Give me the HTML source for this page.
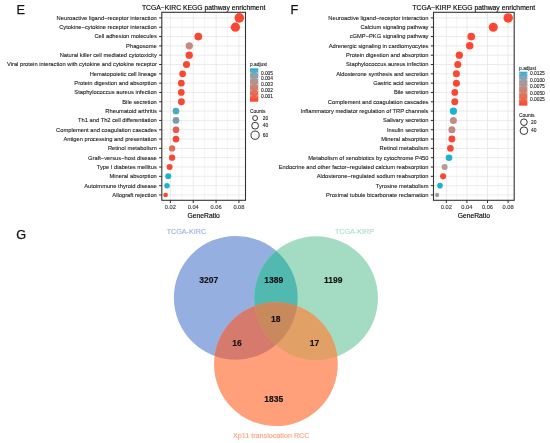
<!DOCTYPE html>
<html><head><meta charset="utf-8"><style>
html,body{margin:0;padding:0;background:#fff;}
svg{display:block;}
text{font-family:"Liberation Sans",Arial,sans-serif;}
.yl{font-size:5.75px;fill:#1a1a1a;stroke:#1a1a1a;stroke-width:0.1px;text-anchor:end;}
.xl{font-size:5.7px;fill:#3a3a3a;stroke:#3a3a3a;stroke-width:0.12px;text-anchor:middle;}
.xt{font-size:6.75px;fill:#000;stroke:#000;stroke-width:0.13px;text-anchor:middle;}
.tt{font-size:6.8px;fill:#000;stroke:#000;stroke-width:0.13px;text-anchor:middle;}
.lg{font-size:4.85px;fill:#1a1a1a;stroke:#1a1a1a;stroke-width:0.1px;}
.pl{font-size:12.7px;fill:#111;stroke:#111;stroke-width:0.25px;}
.vn{font-size:8.5px;font-weight:bold;fill:#111;stroke:#111;stroke-width:0.15px;text-anchor:middle;}
.vl{font-size:7.2px;stroke-width:0.12px;text-anchor:middle;}
</style></head><body>
<svg width="550" height="443" viewBox="0 0 550 443">
<defs>
<linearGradient id="gE" x1="0" y1="0" x2="0" y2="1">
<stop offset="0.000" stop-color="#18b4d4"/><stop offset="0.125" stop-color="#6faabe"/><stop offset="0.250" stop-color="#95a0a8"/><stop offset="0.375" stop-color="#af9593"/><stop offset="0.500" stop-color="#c5897e"/><stop offset="0.625" stop-color="#d67c69"/><stop offset="0.750" stop-color="#e56d54"/><stop offset="0.875" stop-color="#f35b3f"/><stop offset="1.000" stop-color="#ff4428"/>
</linearGradient>
<linearGradient id="gF" x1="0" y1="0" x2="0" y2="1">
<stop offset="0.000" stop-color="#18b4d4"/><stop offset="0.125" stop-color="#6faabe"/><stop offset="0.250" stop-color="#95a0a8"/><stop offset="0.375" stop-color="#af9593"/><stop offset="0.500" stop-color="#c5897e"/><stop offset="0.625" stop-color="#d67c69"/><stop offset="0.750" stop-color="#e56d54"/><stop offset="0.875" stop-color="#f35b3f"/><stop offset="1.000" stop-color="#ff4428"/>
</linearGradient>
</defs>
<rect width="550" height="443" fill="#fff"/>
<text x="16.4" y="13.9" class="pl">E</text>
<text x="290.6" y="13.9" class="pl">F</text>
<text x="16.2" y="239.1" class="pl">G</text>
<line x1="181.82" y1="12.3" x2="181.82" y2="200.3" stroke="#ececec" stroke-width="0.5"/>
<line x1="204.66" y1="12.3" x2="204.66" y2="200.3" stroke="#ececec" stroke-width="0.5"/>
<line x1="227.50" y1="12.3" x2="227.50" y2="200.3" stroke="#ececec" stroke-width="0.5"/>
<line x1="170.40" y1="12.3" x2="170.40" y2="200.3" stroke="#e6e6e6" stroke-width="0.8"/>
<line x1="193.24" y1="12.3" x2="193.24" y2="200.3" stroke="#e6e6e6" stroke-width="0.8"/>
<line x1="216.08" y1="12.3" x2="216.08" y2="200.3" stroke="#e6e6e6" stroke-width="0.8"/>
<line x1="238.92" y1="12.3" x2="238.92" y2="200.3" stroke="#e6e6e6" stroke-width="0.8"/>
<line x1="161.8" y1="17.90" x2="245.5" y2="17.90" stroke="#e6e6e6" stroke-width="0.8"/>
<line x1="161.8" y1="27.22" x2="245.5" y2="27.22" stroke="#e6e6e6" stroke-width="0.8"/>
<line x1="161.8" y1="36.54" x2="245.5" y2="36.54" stroke="#e6e6e6" stroke-width="0.8"/>
<line x1="161.8" y1="45.86" x2="245.5" y2="45.86" stroke="#e6e6e6" stroke-width="0.8"/>
<line x1="161.8" y1="55.18" x2="245.5" y2="55.18" stroke="#e6e6e6" stroke-width="0.8"/>
<line x1="161.8" y1="64.50" x2="245.5" y2="64.50" stroke="#e6e6e6" stroke-width="0.8"/>
<line x1="161.8" y1="73.82" x2="245.5" y2="73.82" stroke="#e6e6e6" stroke-width="0.8"/>
<line x1="161.8" y1="83.14" x2="245.5" y2="83.14" stroke="#e6e6e6" stroke-width="0.8"/>
<line x1="161.8" y1="92.46" x2="245.5" y2="92.46" stroke="#e6e6e6" stroke-width="0.8"/>
<line x1="161.8" y1="101.78" x2="245.5" y2="101.78" stroke="#e6e6e6" stroke-width="0.8"/>
<line x1="161.8" y1="111.10" x2="245.5" y2="111.10" stroke="#e6e6e6" stroke-width="0.8"/>
<line x1="161.8" y1="120.42" x2="245.5" y2="120.42" stroke="#e6e6e6" stroke-width="0.8"/>
<line x1="161.8" y1="129.74" x2="245.5" y2="129.74" stroke="#e6e6e6" stroke-width="0.8"/>
<line x1="161.8" y1="139.06" x2="245.5" y2="139.06" stroke="#e6e6e6" stroke-width="0.8"/>
<line x1="161.8" y1="148.38" x2="245.5" y2="148.38" stroke="#e6e6e6" stroke-width="0.8"/>
<line x1="161.8" y1="157.70" x2="245.5" y2="157.70" stroke="#e6e6e6" stroke-width="0.8"/>
<line x1="161.8" y1="167.02" x2="245.5" y2="167.02" stroke="#e6e6e6" stroke-width="0.8"/>
<line x1="161.8" y1="176.34" x2="245.5" y2="176.34" stroke="#e6e6e6" stroke-width="0.8"/>
<line x1="161.8" y1="185.66" x2="245.5" y2="185.66" stroke="#e6e6e6" stroke-width="0.8"/>
<line x1="161.8" y1="194.98" x2="245.5" y2="194.98" stroke="#e6e6e6" stroke-width="0.8"/>
<circle cx="239.3" cy="17.90" r="4.80" fill="#fb4632"/>
<circle cx="235.4" cy="27.22" r="4.65" fill="#fb4632"/>
<circle cx="198.3" cy="36.54" r="3.85" fill="#fb4632"/>
<circle cx="189.3" cy="45.86" r="3.65" fill="#c48a88"/>
<circle cx="189.2" cy="55.18" r="3.65" fill="#fb4632"/>
<circle cx="186.5" cy="64.50" r="3.55" fill="#fb4632"/>
<circle cx="182.6" cy="73.82" r="3.35" fill="#fb4632"/>
<circle cx="181.3" cy="83.14" r="3.35" fill="#fb4632"/>
<circle cx="181.3" cy="92.46" r="3.35" fill="#fb4632"/>
<circle cx="181.4" cy="101.78" r="3.45" fill="#fb4632"/>
<circle cx="176.0" cy="111.10" r="3.35" fill="#4fa8bb"/>
<circle cx="176.0" cy="120.42" r="3.35" fill="#7b9aab"/>
<circle cx="176.0" cy="129.74" r="3.35" fill="#e45c4c"/>
<circle cx="176.0" cy="139.06" r="3.35" fill="#fb4632"/>
<circle cx="172.1" cy="148.38" r="3.15" fill="#e46a5a"/>
<circle cx="172.1" cy="157.70" r="3.15" fill="#fb4632"/>
<circle cx="169.6" cy="167.02" r="3.00" fill="#fb4632"/>
<circle cx="168.2" cy="176.34" r="3.00" fill="#1ab4d2"/>
<circle cx="167.0" cy="185.66" r="2.75" fill="#1ab4d2"/>
<circle cx="165.6" cy="194.98" r="2.35" fill="#fb4632"/>
<rect x="161.8" y="12.3" width="83.70" height="188.00" fill="none" stroke="#333" stroke-width="1.1"/>
<line x1="159.10" y1="17.90" x2="161.8" y2="17.90" stroke="#333" stroke-width="1.05"/>
<text x="156.80" y="19.85" class="yl">Neuroactive ligand−receptor interaction</text>
<line x1="159.10" y1="27.22" x2="161.8" y2="27.22" stroke="#333" stroke-width="1.05"/>
<text x="156.80" y="29.17" class="yl">Cytokine−cytokine receptor interaction</text>
<line x1="159.10" y1="36.54" x2="161.8" y2="36.54" stroke="#333" stroke-width="1.05"/>
<text x="156.80" y="38.49" class="yl">Cell adhesion molecules</text>
<line x1="159.10" y1="45.86" x2="161.8" y2="45.86" stroke="#333" stroke-width="1.05"/>
<text x="156.80" y="47.81" class="yl">Phagosome</text>
<line x1="159.10" y1="55.18" x2="161.8" y2="55.18" stroke="#333" stroke-width="1.05"/>
<text x="156.80" y="57.13" class="yl">Natural killer cell mediated cytotoxicity</text>
<line x1="159.10" y1="64.50" x2="161.8" y2="64.50" stroke="#333" stroke-width="1.05"/>
<text x="156.80" y="66.45" class="yl">Viral protein interaction with cytokine and cytokine receptor</text>
<line x1="159.10" y1="73.82" x2="161.8" y2="73.82" stroke="#333" stroke-width="1.05"/>
<text x="156.80" y="75.77" class="yl">Hematopoietic cell lineage</text>
<line x1="159.10" y1="83.14" x2="161.8" y2="83.14" stroke="#333" stroke-width="1.05"/>
<text x="156.80" y="85.09" class="yl">Protein digestion and absorption</text>
<line x1="159.10" y1="92.46" x2="161.8" y2="92.46" stroke="#333" stroke-width="1.05"/>
<text x="156.80" y="94.41" class="yl">Staphylococcus aureus infection</text>
<line x1="159.10" y1="101.78" x2="161.8" y2="101.78" stroke="#333" stroke-width="1.05"/>
<text x="156.80" y="103.73" class="yl">Bile secretion</text>
<line x1="159.10" y1="111.10" x2="161.8" y2="111.10" stroke="#333" stroke-width="1.05"/>
<text x="156.80" y="113.05" class="yl">Rheumatoid arthritis</text>
<line x1="159.10" y1="120.42" x2="161.8" y2="120.42" stroke="#333" stroke-width="1.05"/>
<text x="156.80" y="122.37" class="yl">Th1 and Th2 cell differentiation</text>
<line x1="159.10" y1="129.74" x2="161.8" y2="129.74" stroke="#333" stroke-width="1.05"/>
<text x="156.80" y="131.69" class="yl">Complement and coagulation cascades</text>
<line x1="159.10" y1="139.06" x2="161.8" y2="139.06" stroke="#333" stroke-width="1.05"/>
<text x="156.80" y="141.01" class="yl">Antigen processing and presentation</text>
<line x1="159.10" y1="148.38" x2="161.8" y2="148.38" stroke="#333" stroke-width="1.05"/>
<text x="156.80" y="150.33" class="yl">Retinol metabolism</text>
<line x1="159.10" y1="157.70" x2="161.8" y2="157.70" stroke="#333" stroke-width="1.05"/>
<text x="156.80" y="159.65" class="yl">Graft−versus−host disease</text>
<line x1="159.10" y1="167.02" x2="161.8" y2="167.02" stroke="#333" stroke-width="1.05"/>
<text x="156.80" y="168.97" class="yl">Type I diabetes mellitus</text>
<line x1="159.10" y1="176.34" x2="161.8" y2="176.34" stroke="#333" stroke-width="1.05"/>
<text x="156.80" y="178.29" class="yl">Mineral absorption</text>
<line x1="159.10" y1="185.66" x2="161.8" y2="185.66" stroke="#333" stroke-width="1.05"/>
<text x="156.80" y="187.61" class="yl">Autoimmune thyroid disease</text>
<line x1="159.10" y1="194.98" x2="161.8" y2="194.98" stroke="#333" stroke-width="1.05"/>
<text x="156.80" y="196.93" class="yl">Allograft rejection</text>
<line x1="170.40" y1="200.3" x2="170.40" y2="203.00" stroke="#333" stroke-width="1.05"/>
<text x="170.40" y="209.4" class="xl">0.02</text>
<line x1="193.24" y1="200.3" x2="193.24" y2="203.00" stroke="#333" stroke-width="1.05"/>
<text x="193.24" y="209.4" class="xl">0.04</text>
<line x1="216.08" y1="200.3" x2="216.08" y2="203.00" stroke="#333" stroke-width="1.05"/>
<text x="216.08" y="209.4" class="xl">0.06</text>
<line x1="238.92" y1="200.3" x2="238.92" y2="203.00" stroke="#333" stroke-width="1.05"/>
<text x="238.92" y="209.4" class="xl">0.08</text>
<text x="203.65" y="217.6" class="xt">GeneRatio</text>
<text x="203.65" y="9.5" class="tt">TCGA−KIRC KEGG pathway enrichment</text>
<line x1="436.00" y1="12.3" x2="436.00" y2="200.3" stroke="#ececec" stroke-width="0.5"/>
<line x1="456.60" y1="12.3" x2="456.60" y2="200.3" stroke="#ececec" stroke-width="0.5"/>
<line x1="477.20" y1="12.3" x2="477.20" y2="200.3" stroke="#ececec" stroke-width="0.5"/>
<line x1="497.80" y1="12.3" x2="497.80" y2="200.3" stroke="#ececec" stroke-width="0.5"/>
<line x1="446.30" y1="12.3" x2="446.30" y2="200.3" stroke="#e6e6e6" stroke-width="0.8"/>
<line x1="466.90" y1="12.3" x2="466.90" y2="200.3" stroke="#e6e6e6" stroke-width="0.8"/>
<line x1="487.50" y1="12.3" x2="487.50" y2="200.3" stroke="#e6e6e6" stroke-width="0.8"/>
<line x1="508.10" y1="12.3" x2="508.10" y2="200.3" stroke="#e6e6e6" stroke-width="0.8"/>
<line x1="433.5" y1="17.90" x2="514.2" y2="17.90" stroke="#e6e6e6" stroke-width="0.8"/>
<line x1="433.5" y1="27.22" x2="514.2" y2="27.22" stroke="#e6e6e6" stroke-width="0.8"/>
<line x1="433.5" y1="36.54" x2="514.2" y2="36.54" stroke="#e6e6e6" stroke-width="0.8"/>
<line x1="433.5" y1="45.86" x2="514.2" y2="45.86" stroke="#e6e6e6" stroke-width="0.8"/>
<line x1="433.5" y1="55.18" x2="514.2" y2="55.18" stroke="#e6e6e6" stroke-width="0.8"/>
<line x1="433.5" y1="64.50" x2="514.2" y2="64.50" stroke="#e6e6e6" stroke-width="0.8"/>
<line x1="433.5" y1="73.82" x2="514.2" y2="73.82" stroke="#e6e6e6" stroke-width="0.8"/>
<line x1="433.5" y1="83.14" x2="514.2" y2="83.14" stroke="#e6e6e6" stroke-width="0.8"/>
<line x1="433.5" y1="92.46" x2="514.2" y2="92.46" stroke="#e6e6e6" stroke-width="0.8"/>
<line x1="433.5" y1="101.78" x2="514.2" y2="101.78" stroke="#e6e6e6" stroke-width="0.8"/>
<line x1="433.5" y1="111.10" x2="514.2" y2="111.10" stroke="#e6e6e6" stroke-width="0.8"/>
<line x1="433.5" y1="120.42" x2="514.2" y2="120.42" stroke="#e6e6e6" stroke-width="0.8"/>
<line x1="433.5" y1="129.74" x2="514.2" y2="129.74" stroke="#e6e6e6" stroke-width="0.8"/>
<line x1="433.5" y1="139.06" x2="514.2" y2="139.06" stroke="#e6e6e6" stroke-width="0.8"/>
<line x1="433.5" y1="148.38" x2="514.2" y2="148.38" stroke="#e6e6e6" stroke-width="0.8"/>
<line x1="433.5" y1="157.70" x2="514.2" y2="157.70" stroke="#e6e6e6" stroke-width="0.8"/>
<line x1="433.5" y1="167.02" x2="514.2" y2="167.02" stroke="#e6e6e6" stroke-width="0.8"/>
<line x1="433.5" y1="176.34" x2="514.2" y2="176.34" stroke="#e6e6e6" stroke-width="0.8"/>
<line x1="433.5" y1="185.66" x2="514.2" y2="185.66" stroke="#e6e6e6" stroke-width="0.8"/>
<line x1="433.5" y1="194.98" x2="514.2" y2="194.98" stroke="#e6e6e6" stroke-width="0.8"/>
<circle cx="508.2" cy="17.90" r="4.75" fill="#fb4632"/>
<circle cx="493.3" cy="27.22" r="4.50" fill="#fb4632"/>
<circle cx="471.2" cy="36.54" r="3.85" fill="#fb4632"/>
<circle cx="469.7" cy="45.86" r="3.75" fill="#fb4632"/>
<circle cx="459.3" cy="55.18" r="3.65" fill="#fb4632"/>
<circle cx="457.8" cy="64.50" r="3.50" fill="#fb4632"/>
<circle cx="456.4" cy="73.82" r="3.50" fill="#fb4632"/>
<circle cx="456.4" cy="83.14" r="3.50" fill="#fb4632"/>
<circle cx="454.8" cy="92.46" r="3.35" fill="#fb4632"/>
<circle cx="454.8" cy="101.78" r="3.45" fill="#fb4632"/>
<circle cx="453.4" cy="111.10" r="3.65" fill="#1ab4d2"/>
<circle cx="453.4" cy="120.42" r="3.50" fill="#c08e88"/>
<circle cx="451.9" cy="129.74" r="3.50" fill="#c08a84"/>
<circle cx="451.9" cy="139.06" r="3.45" fill="#fb4632"/>
<circle cx="450.4" cy="148.38" r="3.30" fill="#fb4632"/>
<circle cx="449.0" cy="157.70" r="3.30" fill="#1ab4d2"/>
<circle cx="444.6" cy="167.02" r="3.05" fill="#b49a98"/>
<circle cx="443.1" cy="176.34" r="3.05" fill="#fb4632"/>
<circle cx="440.0" cy="185.66" r="2.80" fill="#1ab4d2"/>
<circle cx="437.1" cy="194.98" r="2.15" fill="#a89a9c"/>
<rect x="433.5" y="12.3" width="80.70" height="188.00" fill="none" stroke="#333" stroke-width="1.1"/>
<line x1="430.80" y1="17.90" x2="433.5" y2="17.90" stroke="#333" stroke-width="1.05"/>
<text x="428.50" y="19.85" class="yl">Neuroactive ligand−receptor interaction</text>
<line x1="430.80" y1="27.22" x2="433.5" y2="27.22" stroke="#333" stroke-width="1.05"/>
<text x="428.50" y="29.17" class="yl">Calcium signaling pathway</text>
<line x1="430.80" y1="36.54" x2="433.5" y2="36.54" stroke="#333" stroke-width="1.05"/>
<text x="428.50" y="38.49" class="yl">cGMP−PKG signaling pathway</text>
<line x1="430.80" y1="45.86" x2="433.5" y2="45.86" stroke="#333" stroke-width="1.05"/>
<text x="428.50" y="47.81" class="yl">Adrenergic signaling in cardiomyocytes</text>
<line x1="430.80" y1="55.18" x2="433.5" y2="55.18" stroke="#333" stroke-width="1.05"/>
<text x="428.50" y="57.13" class="yl">Protein digestion and absorption</text>
<line x1="430.80" y1="64.50" x2="433.5" y2="64.50" stroke="#333" stroke-width="1.05"/>
<text x="428.50" y="66.45" class="yl">Staphylococcus aureus infection</text>
<line x1="430.80" y1="73.82" x2="433.5" y2="73.82" stroke="#333" stroke-width="1.05"/>
<text x="428.50" y="75.77" class="yl">Aldosterone synthesis and secretion</text>
<line x1="430.80" y1="83.14" x2="433.5" y2="83.14" stroke="#333" stroke-width="1.05"/>
<text x="428.50" y="85.09" class="yl">Gastric acid secretion</text>
<line x1="430.80" y1="92.46" x2="433.5" y2="92.46" stroke="#333" stroke-width="1.05"/>
<text x="428.50" y="94.41" class="yl">Bile secretion</text>
<line x1="430.80" y1="101.78" x2="433.5" y2="101.78" stroke="#333" stroke-width="1.05"/>
<text x="428.50" y="103.73" class="yl">Complement and coagulation cascades</text>
<line x1="430.80" y1="111.10" x2="433.5" y2="111.10" stroke="#333" stroke-width="1.05"/>
<text x="428.50" y="113.05" class="yl">Inflammatory mediator regulation of TRP channels</text>
<line x1="430.80" y1="120.42" x2="433.5" y2="120.42" stroke="#333" stroke-width="1.05"/>
<text x="428.50" y="122.37" class="yl">Salivary secretion</text>
<line x1="430.80" y1="129.74" x2="433.5" y2="129.74" stroke="#333" stroke-width="1.05"/>
<text x="428.50" y="131.69" class="yl">Insulin secretion</text>
<line x1="430.80" y1="139.06" x2="433.5" y2="139.06" stroke="#333" stroke-width="1.05"/>
<text x="428.50" y="141.01" class="yl">Mineral absorption</text>
<line x1="430.80" y1="148.38" x2="433.5" y2="148.38" stroke="#333" stroke-width="1.05"/>
<text x="428.50" y="150.33" class="yl">Retinol metabolism</text>
<line x1="430.80" y1="157.70" x2="433.5" y2="157.70" stroke="#333" stroke-width="1.05"/>
<text x="428.50" y="159.65" class="yl">Metabolism of xenobiotics by cytochrome P450</text>
<line x1="430.80" y1="167.02" x2="433.5" y2="167.02" stroke="#333" stroke-width="1.05"/>
<text x="428.50" y="168.97" class="yl">Endocrine and other factor−regulated calcium reabsorption</text>
<line x1="430.80" y1="176.34" x2="433.5" y2="176.34" stroke="#333" stroke-width="1.05"/>
<text x="428.50" y="178.29" class="yl">Aldosterone−regulated sodium reabsorption</text>
<line x1="430.80" y1="185.66" x2="433.5" y2="185.66" stroke="#333" stroke-width="1.05"/>
<text x="428.50" y="187.61" class="yl">Tyrosine metabolism</text>
<line x1="430.80" y1="194.98" x2="433.5" y2="194.98" stroke="#333" stroke-width="1.05"/>
<text x="428.50" y="196.93" class="yl">Proximal tubule bicarbonate reclamation</text>
<line x1="446.30" y1="200.3" x2="446.30" y2="203.00" stroke="#333" stroke-width="1.05"/>
<text x="446.30" y="209.4" class="xl">0.02</text>
<line x1="466.90" y1="200.3" x2="466.90" y2="203.00" stroke="#333" stroke-width="1.05"/>
<text x="466.90" y="209.4" class="xl">0.04</text>
<line x1="487.50" y1="200.3" x2="487.50" y2="203.00" stroke="#333" stroke-width="1.05"/>
<text x="487.50" y="209.4" class="xl">0.06</text>
<line x1="508.10" y1="200.3" x2="508.10" y2="203.00" stroke="#333" stroke-width="1.05"/>
<text x="508.10" y="209.4" class="xl">0.08</text>
<text x="473.85" y="217.6" class="xt">GeneRatio</text>
<text x="473.85" y="9.5" class="tt">TCGA−KIRP KEGG pathway enrichment</text>
<text x="250.0" y="65.9" class="lg">p.adjust</text>
<rect x="250.0" y="68.3" width="8.3" height="33.40" fill="url(#gE)"/>
<line x1="250.0" y1="72.9" x2="251.6" y2="72.9" stroke="#fff" stroke-width="0.5"/>
<line x1="256.7" y1="72.9" x2="258.3" y2="72.9" stroke="#fff" stroke-width="0.5"/>
<text x="260.90" y="74.60" class="lg">0.005</text>
<line x1="250.0" y1="78.7" x2="251.6" y2="78.7" stroke="#fff" stroke-width="0.5"/>
<line x1="256.7" y1="78.7" x2="258.3" y2="78.7" stroke="#fff" stroke-width="0.5"/>
<text x="260.90" y="80.40" class="lg">0.004</text>
<line x1="250.0" y1="84.4" x2="251.6" y2="84.4" stroke="#fff" stroke-width="0.5"/>
<line x1="256.7" y1="84.4" x2="258.3" y2="84.4" stroke="#fff" stroke-width="0.5"/>
<text x="260.90" y="86.10" class="lg">0.003</text>
<line x1="250.0" y1="90.2" x2="251.6" y2="90.2" stroke="#fff" stroke-width="0.5"/>
<line x1="256.7" y1="90.2" x2="258.3" y2="90.2" stroke="#fff" stroke-width="0.5"/>
<text x="260.90" y="91.90" class="lg">0.002</text>
<line x1="250.0" y1="95.9" x2="251.6" y2="95.9" stroke="#fff" stroke-width="0.5"/>
<line x1="256.7" y1="95.9" x2="258.3" y2="95.9" stroke="#fff" stroke-width="0.5"/>
<text x="260.90" y="97.60" class="lg">0.001</text>
<text x="250.0" y="112.6" class="lg">Counts</text>
<circle cx="255.1" cy="118.1" r="2.45" fill="none" stroke="#2a2a2a" stroke-width="0.95"/>
<text x="262.8" y="119.80" class="lg">20</text>
<circle cx="255.1" cy="125.7" r="3.4" fill="none" stroke="#2a2a2a" stroke-width="0.95"/>
<text x="262.8" y="127.40" class="lg">40</text>
<circle cx="255.1" cy="135.2" r="4.1" fill="none" stroke="#2a2a2a" stroke-width="0.95"/>
<text x="262.8" y="136.90" class="lg">60</text>
<text x="519.1" y="69.6" class="lg">p.adjust</text>
<rect x="519.1" y="71.7" width="8.3" height="33.90" fill="url(#gF)"/>
<line x1="519.1" y1="73.3" x2="520.7" y2="73.3" stroke="#fff" stroke-width="0.5"/>
<line x1="525.8000000000001" y1="73.3" x2="527.4" y2="73.3" stroke="#fff" stroke-width="0.5"/>
<text x="530.00" y="75.00" class="lg">0.0125</text>
<line x1="519.1" y1="79.8" x2="520.7" y2="79.8" stroke="#fff" stroke-width="0.5"/>
<line x1="525.8000000000001" y1="79.8" x2="527.4" y2="79.8" stroke="#fff" stroke-width="0.5"/>
<text x="530.00" y="81.50" class="lg">0.0100</text>
<line x1="519.1" y1="86.3" x2="520.7" y2="86.3" stroke="#fff" stroke-width="0.5"/>
<line x1="525.8000000000001" y1="86.3" x2="527.4" y2="86.3" stroke="#fff" stroke-width="0.5"/>
<text x="530.00" y="88.00" class="lg">0.0075</text>
<line x1="519.1" y1="92.8" x2="520.7" y2="92.8" stroke="#fff" stroke-width="0.5"/>
<line x1="525.8000000000001" y1="92.8" x2="527.4" y2="92.8" stroke="#fff" stroke-width="0.5"/>
<text x="530.00" y="94.50" class="lg">0.0050</text>
<line x1="519.1" y1="99.2" x2="520.7" y2="99.2" stroke="#fff" stroke-width="0.5"/>
<line x1="525.8000000000001" y1="99.2" x2="527.4" y2="99.2" stroke="#fff" stroke-width="0.5"/>
<text x="530.00" y="100.90" class="lg">0.0025</text>
<text x="519.1" y="116.6" class="lg">Counts</text>
<circle cx="523.9" cy="122.2" r="3.3" fill="none" stroke="#2a2a2a" stroke-width="0.95"/>
<text x="531.1" y="123.90" class="lg">20</text>
<circle cx="523.9" cy="130.7" r="3.8" fill="none" stroke="#2a2a2a" stroke-width="0.95"/>
<text x="531.1" y="132.40" class="lg">40</text>
<defs>
<clipPath id="cB"><circle cx="235.8" cy="297.8" r="61.9"/></clipPath>
<clipPath id="cG"><circle cx="316.1" cy="298.1" r="61.9"/></clipPath>
<clipPath id="cO"><circle cx="275.9" cy="364.2" r="61.9"/></clipPath>
</defs>
<circle cx="235.8" cy="297.8" r="61.9" fill="#94afe0"/>
<circle cx="316.1" cy="298.1" r="61.9" fill="#a3dcc3"/>
<circle cx="275.9" cy="364.2" r="61.9" fill="#ffa07a"/>
<circle cx="316.1" cy="298.1" r="61.9" fill="#52b9b0" clip-path="url(#cB)"/>
<g clip-path="url(#cO)">
<circle cx="235.8" cy="297.8" r="61.9" fill="#d67a6e"/>
<circle cx="316.1" cy="298.1" r="61.9" fill="#e0a066"/>
<g clip-path="url(#cB)"><circle cx="316.1" cy="298.1" r="61.9" fill="#c88a5c"/></g>
</g>
<text x="208.8" y="283.3" class="vn">3207</text>
<text x="273.8" y="283.3" class="vn">1389</text>
<text x="333.3" y="283.3" class="vn">1199</text>
<text x="275.8" y="321.8" class="vn">18</text>
<text x="236.9" y="345.5" class="vn">16</text>
<text x="314.6" y="345.5" class="vn">17</text>
<text x="273.8" y="402.4" class="vn">1835</text>
<text x="186.4" y="234.1" class="vl" fill="#98b0e2" stroke="#98b0e2">TCGA-KIRC</text>
<text x="354.5" y="234.1" class="vl" fill="#abe0c8" stroke="#abe0c8">TCGA-KIRP</text>
<text x="271.2" y="438.4" class="vl" fill="#ffa07a" stroke="#ffa07a">Xp11 translocation RCC</text>

</svg>
</body></html>
